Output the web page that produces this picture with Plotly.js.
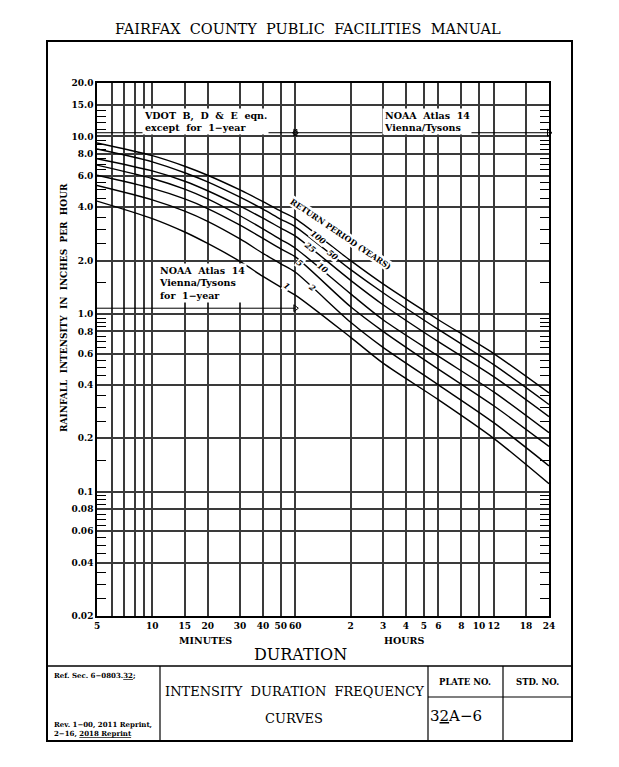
<!DOCTYPE html>
<html><head><meta charset="utf-8">
<script src="https://cdn.plot.ly/plotly-3.0.1.min.js"></script>
<style>html,body{margin:0;padding:0;background:#fff}</style>
</head><body><div id="chart" style="width:619px;height:767px"></div>
<script>
// ---------- DATA ----------
const durationsMin = [5, 10, 15, 20, 30, 40, 50, 60, 120, 180, 360, 720, 1440];
const returnPeriods = ['1', '2', '5', '10', '25', '50', '100'];
const intensity1yr   = [4.33, 3.45, 2.90, 2.50, 1.98, 1.63, 1.42, 1.28, 0.74, 0.53, 0.33, 0.200, 0.111];
const intensity2yr   = [5.30, 4.40, 3.80, 3.33, 2.65, 2.20, 1.92, 1.72, 0.90, 0.65, 0.40, 0.245, 0.140];
const intensity5yr   = [6.05, 5.10, 4.45, 3.93, 3.17, 2.67, 2.33, 2.10, 1.10, 0.80, 0.49, 0.305, 0.180];
const intensity10yr  = [6.90, 5.80, 5.05, 4.45, 3.58, 3.02, 2.63, 2.35, 1.30, 0.93, 0.58, 0.365, 0.215];
const intensity25yr  = [7.50, 6.40, 5.60, 4.95, 4.05, 3.47, 3.05, 2.75, 1.55, 1.13, 0.70, 0.445, 0.265];
const intensity50yr  = [8.50, 7.20, 6.25, 5.55, 4.55, 3.90, 3.42, 3.10, 1.78, 1.32, 0.82, 0.520, 0.310];
const intensity100yr = [9.20, 7.80, 6.80, 6.05, 5.00, 4.30, 3.80, 3.45, 2.00, 1.48, 0.93, 0.600, 0.360];
const allSeries = [intensity1yr, intensity2yr, intensity5yr, intensity10yr, intensity25yr, intensity50yr, intensity100yr];

const xTickVals = [5, 6, 7, 8, 9, 10, 15, 20, 30, 40, 50, 60, 120, 180, 240, 300, 360, 480, 600, 720, 1080, 1440];
const xTickText = ['5', '', '', '', '', '10', '15', '20', '30', '40', '50', '60', '2', '3', '4', '5', '6', '8', '10', '12', '18', '24'];
const yTickVals = [0.02, 0.04, 0.06, 0.08, 0.1, 0.2, 0.4, 0.6, 0.8, 1, 2, 4, 6, 8, 10, 15, 20];
const yTickText = ['0.02', '0.04', '0.06', '0.08', '0.1', '0.2', '0.4', '0.6', '0.8', '1.0', '2.0', '4.0', '6.0', '8.0', '10.0', '15.0', '20.0'];
const yMinorVals = [0.025, 0.03, 0.035, 0.045, 0.05, 0.055, 0.065, 0.07, 0.075, 0.085, 0.09, 0.095,
  0.15, 0.25, 0.3, 0.35, 0.45, 0.5, 0.55, 0.65, 0.7, 0.75, 0.85, 0.9, 0.95,
  1.5, 2.5, 3, 3.5, 4.5, 5, 5.5, 6.5, 7, 7.5, 8.5, 9, 9.5, 11, 12, 13, 14];

const vdotSpanMin = [5, 60];
const noaaSpanMin = [60, 1440];
const upperSpanLevel = 10.5;
const lowerSpanLevel = 1.08;

// ---------- LAYOUT HELPERS ----------
const L = 97, R = 70, T = 83, B = 151, W = 619, H = 767;
const PW = W - L - R, PH = H - T - B;
const PX = px => (px - L) / PW;
const PY = py => (H - B - py) / PH;
const SERIF = '"DejaVu Serif", "Liberation Serif", serif';

const traces = allSeries.map((ys, k) => ({
  x: durationsMin, y: ys, type: 'scatter', mode: 'lines',
  line: {color: '#000', width: 1.4, shape: 'spline', smoothing: 0.8},
  name: returnPeriods[k] + '-yr', hoverinfo: 'skip', showlegend: false
}));

function spanTrace(xs, level) {
  return {x: xs, y: [level, level], type: 'scatter', mode: 'lines+markers', cliponaxis: false,
    line: {color: '#000', width: 1},
    marker: {symbol: ['triangle-left-open', 'triangle-right-open'], size: 6, color: '#000', line: {width: 1, color: '#000'}},
    hoverinfo: 'skip', showlegend: false};
}
traces.push(spanTrace(vdotSpanMin, upperSpanLevel));
traces.push(spanTrace(noaaSpanMin, upperSpanLevel));
traces.push(spanTrace(vdotSpanMin, lowerSpanLevel));

function ann(px, py, text, opts) {
  return Object.assign({xref: 'paper', yref: 'paper', x: PX(px), y: PY(py), text: text, showarrow: false,
    xanchor: 'center', yanchor: 'middle',
    font: {family: SERIF, size: 10, color: '#000'}}, opts || {});
}
const bold = sz => ({family: SERIF, size: sz, color: '#000', weight: 'bold'});
const reg = sz => ({family: SERIF, size: sz, color: '#000'});
const sp = '\u00a0';

const annotations = [
  ann(308, 29, 'FAIRFAX' + sp + ' COUNTY' + sp + ' PUBLIC' + sp + ' FACILITIES' + sp + ' MANUAL', {font: reg(14.5)}),
  ann(64, 308, 'RAINFALL' + sp + ' INTENSITY' + sp + ' IN' + sp + ' INCHES' + sp + ' PER' + sp + ' HOUR', {font: bold(9), textangle: -90}),
  ann(205, 640, 'MINUTES', {font: bold(9.5)}),
  ann(404, 640, 'HOURS', {font: bold(9.5)}),
  ann(300, 654, 'DURATION', {font: reg(16)}),
  ann(142, 121, 'VDOT' + sp + ' B,' + sp + ' D' + sp + ' &' + sp + ' E' + sp + ' eqn.<br>except' + sp + ' for' + sp + ' 1\u2212year',
      {font: bold(9.5), xanchor: 'left', align: 'left', bgcolor: '#fff', borderpad: 1}),
  ann(382, 121, 'NOAA' + sp + ' Atlas' + sp + ' 14<br>Vienna/Tysons',
      {font: bold(9.5), xanchor: 'left', align: 'left', bgcolor: '#fff', borderpad: 1}),
  ann(157, 283, 'NOAA' + sp + ' Atlas' + sp + ' 14<br>Vienna/Tysons<br>for' + sp + ' 1\u2212year',
      {font: bold(9.5), xanchor: 'left', align: 'left', bgcolor: '#fff', borderpad: 1}),
  ann(341, 234, 'RETURN PERIOD (YEARS)', {font: bold(8), textangle: 34, bgcolor: '#fff', borderpad: 0}),
  // title block
  ann(52, 675, 'Ref. Sec. 6\u22120803.<u>32</u>;', {font: bold(7), xanchor: 'left'}),
  ann(294, 691, 'INTENSITY' + sp + ' DURATION' + sp + ' FREQUENCY', {font: reg(13)}),
  ann(294, 718, 'CURVES', {font: reg(13)}),
  ann(465, 682, 'PLATE NO.', {font: bold(8.5)}),
  ann(537, 682, 'STD. NO.', {font: bold(8.5)}),
  ann(456, 716, '3<u>2</u>A\u22126', {font: reg(15)}),
  ann(52, 729, 'Rev. 1\u221200, 2011 Reprint,<br>2\u221216, <u>2018 Reprint</u>', {font: bold(7), xanchor: 'left', align: 'left'})
];

// curve labels (positions in pixels of the page)
const curveLabelPos = {'100': [318, 237], '50': [333, 255], '25': [310, 247], '10': [323, 268], '5': [300, 263], '2': [312, 287], '1': [287, 286]};
returnPeriods.forEach(rp => {
  const p = curveLabelPos[rp];
  annotations.push(ann(p[0], p[1], '<i>' + rp + '</i>', {font: bold(8), textangle: 38, bgcolor: '#fff', borderpad: 0}));
});

const line = (x0, y0, x1, y1, w) => ({type: 'line', xref: 'paper', yref: 'paper', x0: PX(x0), y0: PY(y0), x1: PX(x1), y1: PY(y1), line: {color: '#000', width: w}});
const shapes = [
  {type: 'rect', xref: 'paper', yref: 'paper', x0: PX(47), x1: PX(572), y0: PY(741), y1: PY(41), line: {color: '#000', width: 2}},
  line(47, 666, 572, 666, 1.5),
  line(160, 666, 160, 741, 1.2),
  line(428, 666, 428, 741, 1.2),
  line(503, 666, 503, 741, 1.2),
  line(428, 697, 572, 697, 1.2)
];

const layout = {
  width: W, height: H, margin: {l: L, r: R, t: T, b: B, pad: 0},
  paper_bgcolor: '#fff', plot_bgcolor: '#fff', showlegend: false,
  xaxis: {type: 'log', range: [Math.log10(5), Math.log10(1440)], tickmode: 'array', tickvals: xTickVals, ticktext: xTickText,
    tickangle: 0, ticks: '', showgrid: true, gridcolor: '#3a3a3a', gridwidth: 1.6, showline: true, linecolor: '#000', linewidth: 1.6, mirror: true,
    tickfont: {family: SERIF, size: 9, color: '#000', weight: 'bold'}, zeroline: false, fixedrange: true},
  yaxis: {type: 'log', range: [Math.log10(0.02), Math.log10(20)], tickmode: 'array', tickvals: yTickVals, ticktext: yTickText,
    ticks: '', showgrid: true, gridcolor: '#3a3a3a', gridwidth: 1.6, showline: true, linecolor: '#000', linewidth: 1.6, mirror: 'allticks',
    tickfont: {family: SERIF, size: 9, color: '#000', weight: 'bold'}, zeroline: false, fixedrange: true,
    minor: {tickmode: 'array', tickvals: yMinorVals, ticks: 'inside', ticklen: 9, tickwidth: 1.2, tickcolor: '#000', showgrid: false}},
  annotations: annotations, shapes: shapes
};

Plotly.newPlot('chart', traces, layout, {displayModeBar: false});
</script></body></html>
